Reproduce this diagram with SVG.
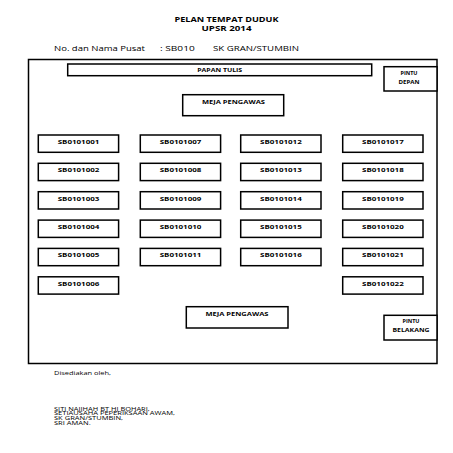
<svg xmlns="http://www.w3.org/2000/svg" width="453" height="453" viewBox="0 0 453 453">
<style>
.bx{fill:#fff;stroke:#000;stroke-width:1.5}
.t{font-family:"Open Sans","Liberation Sans",sans-serif;fill:#000}
.b{font-weight:bold}
.s{font-size:6px;font-weight:bold;text-anchor:middle}
.sm{font-size:5.5px;font-weight:bold;text-anchor:middle}
.f{font-size:4.5px}
</style>
<rect width="453" height="453" fill="#fff"/>
<g id="header">
<text class="t b" x="226.5" y="22.3" font-size="7" text-anchor="middle" textLength="104" lengthAdjust="spacingAndGlyphs">PELAN TEMPAT DUDUK</text>
<text class="t b" x="226.5" y="31" font-size="7" text-anchor="middle" textLength="50" lengthAdjust="spacingAndGlyphs">UPSR 2014</text>
<text class="t" x="54" y="50.7" font-size="7.5" textLength="91" lengthAdjust="spacingAndGlyphs">No.  dan Nama Pusat</text>
<text class="t" x="160" y="50.7" font-size="7.5" textLength="34.7" lengthAdjust="spacingAndGlyphs">: SB010</text>
<text class="t" x="213" y="50.7" font-size="7.5" textLength="86" lengthAdjust="spacingAndGlyphs">SK GRAN/STUMBIN</text>
</g>
<g id="room"><rect class="bx" x="28.5" y="59.5" width="408.5" height="304" fill="none" stroke-width="1.7"/></g>
<g id="papan-tulis"><rect class="bx" x="67.7" y="64" width="304" height="11.7"/><text class="t sm" x="219.7" y="72" textLength="45" lengthAdjust="spacingAndGlyphs">PAPAN TULIS</text></g>
<g id="pintu-depan"><rect class="bx" x="384" y="66.7" width="53" height="24.3"/><text class="t sm" x="409" y="74.5" textLength="17" lengthAdjust="spacingAndGlyphs">PINTU</text><text class="t sm" x="409" y="83.5" textLength="21" lengthAdjust="spacingAndGlyphs">DEPAN</text></g>
<g id="meja-pengawas-1"><rect class="bx" x="182.7" y="94.7" width="101" height="21"/><text class="t sm" x="233.5" y="103.5" textLength="63" lengthAdjust="spacingAndGlyphs">MEJA PENGAWAS</text></g>
<g id="seat-SB0101001"><rect class="bx" x="38.3" y="135" width="80.3" height="17.3"/><text class="t s" x="78.5" y="144" textLength="41.7" lengthAdjust="spacingAndGlyphs">SB0101001</text></g>
<g id="seat-SB0101002"><rect class="bx" x="38.3" y="163.3" width="80.3" height="17.3"/><text class="t s" x="78.5" y="172.3" textLength="41.7" lengthAdjust="spacingAndGlyphs">SB0101002</text></g>
<g id="seat-SB0101003"><rect class="bx" x="38.3" y="191.7" width="80.3" height="17.3"/><text class="t s" x="78.5" y="200.7" textLength="41.7" lengthAdjust="spacingAndGlyphs">SB0101003</text></g>
<g id="seat-SB0101004"><rect class="bx" x="38.3" y="220.1" width="80.3" height="17.3"/><text class="t s" x="78.5" y="229.1" textLength="41.7" lengthAdjust="spacingAndGlyphs">SB0101004</text></g>
<g id="seat-SB0101005"><rect class="bx" x="38.3" y="248.4" width="80.3" height="17.3"/><text class="t s" x="78.5" y="257.4" textLength="41.7" lengthAdjust="spacingAndGlyphs">SB0101005</text></g>
<g id="seat-SB0101006"><rect class="bx" x="38.3" y="276.8" width="80.3" height="17.3"/><text class="t s" x="78.5" y="285.8" textLength="41.7" lengthAdjust="spacingAndGlyphs">SB0101006</text></g>
<g id="seat-SB0101007"><rect class="bx" x="140.3" y="135" width="80.3" height="17.3"/><text class="t s" x="180.5" y="144" textLength="41.7" lengthAdjust="spacingAndGlyphs">SB0101007</text></g>
<g id="seat-SB0101008"><rect class="bx" x="140.3" y="163.3" width="80.3" height="17.3"/><text class="t s" x="180.5" y="172.3" textLength="41.7" lengthAdjust="spacingAndGlyphs">SB0101008</text></g>
<g id="seat-SB0101009"><rect class="bx" x="140.3" y="191.7" width="80.3" height="17.3"/><text class="t s" x="180.5" y="200.7" textLength="41.7" lengthAdjust="spacingAndGlyphs">SB0101009</text></g>
<g id="seat-SB0101010"><rect class="bx" x="140.3" y="220.1" width="80.3" height="17.3"/><text class="t s" x="180.5" y="229.1" textLength="41.7" lengthAdjust="spacingAndGlyphs">SB0101010</text></g>
<g id="seat-SB0101011"><rect class="bx" x="140.3" y="248.4" width="80.3" height="17.3"/><text class="t s" x="180.5" y="257.4" textLength="41.7" lengthAdjust="spacingAndGlyphs">SB0101011</text></g>
<g id="seat-SB0101012"><rect class="bx" x="240.7" y="135" width="80.3" height="17.3"/><text class="t s" x="280.9" y="144" textLength="41.7" lengthAdjust="spacingAndGlyphs">SB0101012</text></g>
<g id="seat-SB0101013"><rect class="bx" x="240.7" y="163.3" width="80.3" height="17.3"/><text class="t s" x="280.9" y="172.3" textLength="41.7" lengthAdjust="spacingAndGlyphs">SB0101013</text></g>
<g id="seat-SB0101014"><rect class="bx" x="240.7" y="191.7" width="80.3" height="17.3"/><text class="t s" x="280.9" y="200.7" textLength="41.7" lengthAdjust="spacingAndGlyphs">SB0101014</text></g>
<g id="seat-SB0101015"><rect class="bx" x="240.7" y="220.1" width="80.3" height="17.3"/><text class="t s" x="280.9" y="229.1" textLength="41.7" lengthAdjust="spacingAndGlyphs">SB0101015</text></g>
<g id="seat-SB0101016"><rect class="bx" x="240.7" y="248.4" width="80.3" height="17.3"/><text class="t s" x="280.9" y="257.4" textLength="41.7" lengthAdjust="spacingAndGlyphs">SB0101016</text></g>
<g id="seat-SB0101017"><rect class="bx" x="342.7" y="135" width="80.3" height="17.3"/><text class="t s" x="382.9" y="144" textLength="41.7" lengthAdjust="spacingAndGlyphs">SB0101017</text></g>
<g id="seat-SB0101018"><rect class="bx" x="342.7" y="163.3" width="80.3" height="17.3"/><text class="t s" x="382.9" y="172.3" textLength="41.7" lengthAdjust="spacingAndGlyphs">SB0101018</text></g>
<g id="seat-SB0101019"><rect class="bx" x="342.7" y="191.7" width="80.3" height="17.3"/><text class="t s" x="382.9" y="200.7" textLength="41.7" lengthAdjust="spacingAndGlyphs">SB0101019</text></g>
<g id="seat-SB0101020"><rect class="bx" x="342.7" y="220.1" width="80.3" height="17.3"/><text class="t s" x="382.9" y="229.1" textLength="41.7" lengthAdjust="spacingAndGlyphs">SB0101020</text></g>
<g id="seat-SB0101021"><rect class="bx" x="342.7" y="248.4" width="80.3" height="17.3"/><text class="t s" x="382.9" y="257.4" textLength="41.7" lengthAdjust="spacingAndGlyphs">SB0101021</text></g>
<g id="seat-SB0101022"><rect class="bx" x="342.7" y="276.8" width="80.3" height="17.3"/><text class="t s" x="382.9" y="285.8" textLength="41.7" lengthAdjust="spacingAndGlyphs">SB0101022</text></g>
<g id="meja-pengawas-2"><rect class="bx" x="186.3" y="306.7" width="101.7" height="21.3"/><text class="t sm" x="237" y="315.5" textLength="63" lengthAdjust="spacingAndGlyphs">MEJA PENGAWAS</text></g>
<g id="pintu-belakang"><rect class="bx" x="384" y="315.3" width="53" height="24.7"/><text class="t sm" x="411" y="323" textLength="17" lengthAdjust="spacingAndGlyphs">PINTU</text><text class="t sm" x="411" y="332" textLength="37" lengthAdjust="spacingAndGlyphs">BELAKANG</text></g>
<g id="footer">
<text class="t" x="54" y="375" font-size="6" textLength="57" lengthAdjust="spacingAndGlyphs">Disediakan oleh,</text>
<text class="t f" x="54" y="410.5" textLength="95.7" lengthAdjust="spacingAndGlyphs">SITI NAJIHAH BT HJ  BOHARI,</text>
<text class="t f" x="54" y="415.4" textLength="121" lengthAdjust="spacingAndGlyphs">SETIAUSAHA PEPERIKSAAN AWAM,</text>
<text class="t f" x="54" y="420.2" textLength="69" lengthAdjust="spacingAndGlyphs">SK GRAN/STUMBIN,</text>
<text class="t f" x="54" y="425" textLength="36.7" lengthAdjust="spacingAndGlyphs">SRI AMAN.</text>
</g>
</svg>
